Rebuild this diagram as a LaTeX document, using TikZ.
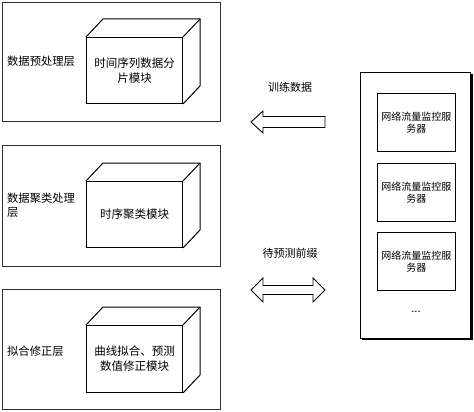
\documentclass[tikz,border=0pt]{standalone}
\usepackage{fontspec}
\setmainfont{Noto Sans CJK SC}
\begin{document}
\begin{tikzpicture}[x=1pt,y=-1pt,
  layer/.style={draw=black!80, line width=1.1pt, inner sep=0pt, anchor=north west},
  face/.style={draw, line width=1pt, fill=white, inner sep=0pt, anchor=north west, minimum width=96pt, align=center, font=\fontsize{11.5}{15}\selectfont},
  cubeedge/.style={draw, line width=1pt, line join=miter},
  lbl/.style={anchor=west, align=left, inner sep=0pt, font=\fontsize{11.3}{14.5}\selectfont},
  srv/.style={draw, line width=0.8pt, inner sep=0pt, anchor=north west, minimum width=78pt, minimum height=58pt, align=center, font=\fontsize{10}{12.5}\selectfont},
  fat/.style={draw, line width=0.9pt, fill=white, line join=miter},
  captxt/.style={inner sep=0pt, font=\fontsize{11}{13}\selectfont}]
\useasboundingbox (0,0) rectangle (474,412);

% layer boxes
\node[layer, minimum width=218pt, minimum height=119pt] (L1) at (2,2) {};
\node[layer, minimum width=218pt, minimum height=121pt] (L2) at (2,145) {};
\node[layer, minimum width=218pt, minimum height=120pt] (L3) at (2,289) {};

\node[lbl] (T1) at (7,61) {数据预处理层};
\node[lbl] (T2) at (7,205) {数据聚类处理\\层};
\node[lbl] (T3) at (7,351) {拟合修正层};

% cubes
\node[face, minimum height=66pt] (C1) at (86,37) {时间序列数据分\\片模块};
\node[face, minimum height=66pt] (C2) at (86,181) {时序聚类模块};
\node[face, minimum height=67pt] (C3) at (86,325) {曲线拟合、预测\\数值修正模块};
\foreach \c in {C1,C2,C3}{
  \draw[cubeedge] (\c.north west) -- ([shift={(17pt,18pt)}]\c.north west) -- ([shift={(17pt,18pt)}]\c.north east) -- ([shift={(17pt,18pt)}]\c.south east) -- (\c.south east);
  \draw[cubeedge] (\c.north east) -- ([shift={(17pt,18pt)}]\c.north east);
}

% server box
\fill[black] (470,74) rectangle (473,340);
\fill[black] (362,338) rectangle (473,340);
\node[draw, line width=0.8pt, fill=white, inner sep=0pt, anchor=north west, minimum width=110pt, minimum height=266pt] (S) at (360,72) {};
\node[srv] (B1) at (377,93) {网络流量监控服\\务器};
\node[srv] (B2) at (377,163) {网络流量监控服\\务器};
\node[srv] (B3) at (377,232) {网络流量监控服\\务器};
\node[captxt] (dots) at (416,312) {...};

% arrows
\node[captxt] (A1) at (290,87) {训练数据};
\node[captxt] (A2) at (290,253) {待预测前缀};
\draw[fat] (251,122) -- (263,111) -- (263,116.5) -- (325,116.5) -- (325,127.5) -- (263,127.5) -- (263,133) -- cycle;
\draw[fat] (251,290) -- (263,278) -- (263,285.5) -- (313,285.5) -- (313,278) -- (325,290) -- (313,302) -- (313,294.5) -- (263,294.5) -- (263,302) -- cycle;
\end{tikzpicture}
\end{document}
